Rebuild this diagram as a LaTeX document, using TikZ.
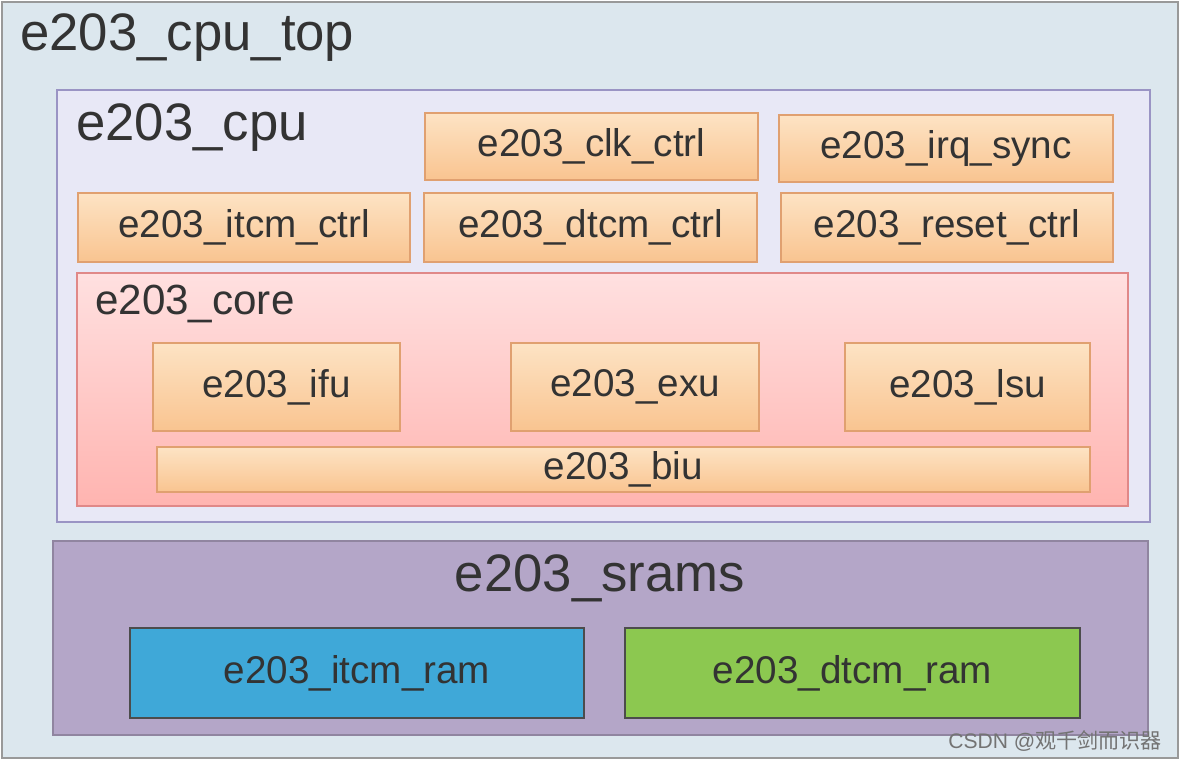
\documentclass[tikz,border=0pt]{standalone}
\usepackage{fontspec}
\setmainfont{Liberation Sans}
\newfontfamily\cjkfont{Noto Sans CJK SC}
\usetikzlibrary{fit}
\definecolor{topbg}{HTML}{DCE7EE}
\definecolor{cpubg}{HTML}{E8E8F6}
\definecolor{cpuln}{HTML}{9A94C4}
\definecolor{modtop}{HTML}{FDE3C4}
\definecolor{modbot}{HTML}{F9C490}
\definecolor{modln}{HTML}{E0A070}
\definecolor{coretop}{HTML}{FFE0E0}
\definecolor{corebot}{HTML}{FFB4B0}
\definecolor{coreln}{HTML}{E08888}
\definecolor{srambg}{HTML}{B4A6C8}
\definecolor{ramblue}{HTML}{3FA8D8}
\definecolor{ramgreen}{HTML}{8CC850}
\tikzset{
  frame/.style={draw, inner sep=0pt, line width=0.8pt},
  boxtext/.style={label={[text=black!80, font=\fontsize{22}{26}\selectfont]center:#1}},
  module/.style={
    frame,
    draw=modln,
    top color=modtop,
    bottom color=modbot,
    boxtext=#1
  },
  ram/.style={
    frame,
    draw=black!70,
    line width=1pt,
    boxtext=#1
  }
}
\begin{document}
\begin{tikzpicture}[x=0.02cm, y=-0.02cm]
  \useasboundingbox (0,0) rectangle (1180,760);
  % outer level
  \node[frame, draw=black!40, fill=topbg, fit={(2,2) (1178,758)}] (top) {};
  \node[anchor=west, text=black!80, font=\fontsize{30}{34}\selectfont] (toplbl) at (14,38) {e203\_cpu\_top};
  % cpu
  \node[frame, draw=cpuln, fill=cpubg, fit={(57,90) (1150,522)}] (cpu) {};
  \node[anchor=west, text=black!80, font=\fontsize{30}{34}\selectfont] (cpulbl) at (70,128) {e203\_cpu};
  \node[module={e203\_clk\_ctrl}, fit={(425,113) (758,180)}] (clk) {};
  \node[module={e203\_irq\_sync}, fit={(779,115) (1113,182)}] (irq) {};
  \node[module={e203\_itcm\_ctrl}, fit={(78,193) (410,262)}] (itcm) {};
  \node[module={e203\_dtcm\_ctrl}, fit={(424,193) (757,262)}] (dtcm) {};
  \node[module={e203\_reset\_ctrl}, fit={(781,193) (1113,262)}] (reset) {};
  % core
  \node[frame, draw=coreln, top color=coretop, bottom color=corebot, fit={(77,273) (1128,506)}] (core) {};
  \node[anchor=west, text=black!80, font=\fontsize{24}{28}\selectfont] (corelbl) at (89,304) {e203\_core};
  \node[module={e203\_ifu}, fit={(153,343) (400,431)}] (ifu) {};
  \node[module={e203\_exu}, fit={(511,343) (759,431)}] (exu) {};
  \node[module={e203\_lsu}, fit={(845,343) (1090,431)}] (lsu) {};
  \node[module={e203\_biu}, fit={(157,447) (1090,492)}] (biu) {};
  % srams
  \node[frame, draw=srambg!80!black, fill=srambg, fit={(53,541) (1148,735)}] (srams) {};
  \node[text=black!80, font=\fontsize{30}{34}\selectfont] (sramlbl) at (600,578) {e203\_srams};
  \node[ram={e203\_itcm\_ram}, fill=ramblue, fit={(130,628) (584,718)}] (itcmram) {};
  \node[ram={e203\_dtcm\_ram}, fill=ramgreen, fit={(625,628) (1080,718)}] (dtcmram) {};
  \node[anchor=east, text=black!55, font=\fontsize{12}{14}\selectfont] (mark) at (1168,741) {CSDN @{\cjkfont 观千剑而识器}};
\end{tikzpicture}
\end{document}
